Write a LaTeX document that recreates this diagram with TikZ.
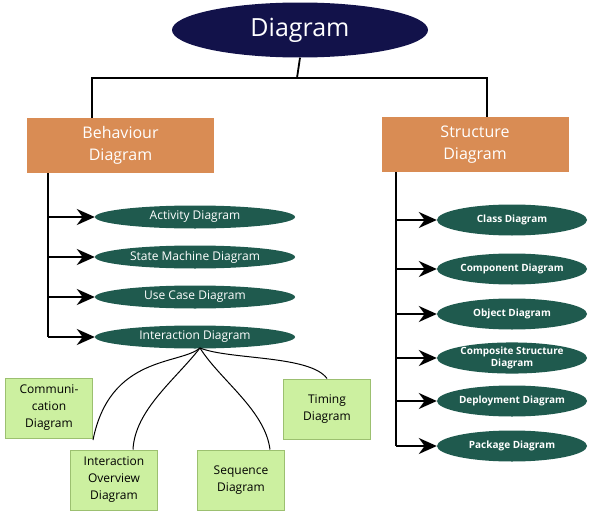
\documentclass[tikz,border=0pt]{standalone}
\usepackage{fontspec}
\setmainfont{Open Sans}
\usetikzlibrary{shapes.geometric,arrows.meta}
\definecolor{navy}{HTML}{12124A}
\definecolor{teal}{HTML}{1F5A4E}
\definecolor{org}{HTML}{D98C54}
\definecolor{gfill}{HTML}{CCF0A0}
\definecolor{gline}{HTML}{9CC070}
\begin{document}
\begin{tikzpicture}[x=1pt,y=-1pt,
  ell/.style={ellipse,fill=teal,text=white,inner sep=0,font=\fontsize{12}{13}\selectfont,align=center},
  box/.style={rectangle,fill=org,text=white,minimum width=187,minimum height=55,font=\fontsize{16}{22}\selectfont,align=center},
  gbox/.style={rectangle,fill=gfill,draw=gline,line width=1pt,minimum width=87,minimum height=60,font=\fontsize{12}{17}\selectfont,align=center},
  ln/.style={line width=1.8pt},
  arr/.style={line width=1.8pt,-{Stealth[length=18pt,width=16pt]}},
  cv/.style={line width=1pt}]
\useasboundingbox (0,0) rectangle (600,514);
\node[ellipse,fill=navy,text=white,minimum width=256,minimum height=55,inner sep=0,font=\fontsize{25}{30}\selectfont] (top) at (300,30) {Diagram};
\node[box] (beh) at (120.5,145.5) {Behaviour\\Diagram};
\node[box] (str) at (475,144.5) {Structure\\Diagram};
\coordinate (j) at (297,78);
\draw[ln] (top.south) -- (j);
\draw[ln] (beh.north -| 92,0) |- (j) -| (str.north -| 487,0);
% left
\foreach \n/\y/\t in {a/217/Activity Diagram,b/257/State Machine Diagram,c/297/Use Case Diagram,d/337/Interaction Diagram}
  \node[ell,minimum width=200,minimum height=23] (\n) at (195,\y) {\t};
\coordinate (lt) at (48,173);
\draw[ln] (lt) -- (48,337);
\foreach \n in {a,b,c,d} \draw[arr] (lt |- \n) -- (\n.west);
% right
\foreach \n/\y/\t in {p/220/Class Diagram,q/269/Component Diagram,r/314/Object Diagram,s/358/Composite Structure\\Diagram,t/401/Deployment Diagram,u/446/Package Diagram}
  \node[ell,font=\bfseries\fontsize{10}{12}\selectfont,minimum width=150,minimum height=31] (\n) at (512,\y) {\t};
\coordinate (rt) at (396,172);
\draw[ln] (rt) -- (396,446);
\foreach \n in {p,q,r,s,t,u} \draw[arr] (rt |- \n) -- (\n.west);
% green
\node[gbox] (g1) at (49,408) {Communi-\\cation\\Diagram};
\node[gbox] (g2) at (114,480) {Interaction\\Overview\\Diagram};
\node[gbox] (g3) at (241,480) {Sequence\\Diagram};
\node[gbox] (g4) at (327,409) {Timing\\Diagram};
\coordinate (dc) at (200,348);
\draw[cv] (dc) .. controls (180,365) and (110,355) .. (g1.east |- 0,440);
\draw[cv] (dc) .. controls (175,380) and (135,410) .. (g2.north east -| 133,0);
\draw[cv] (dc) .. controls (220,380) and (265,410) .. (g3.north east -| 270,0);
\draw[cv] (dc) .. controls (230,360) and (310,355) .. (g4.north);
\end{tikzpicture}
\end{document}
